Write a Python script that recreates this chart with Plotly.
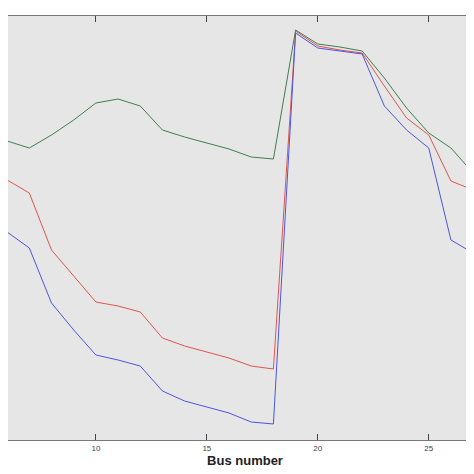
import plotly.graph_objects as go

bus = list(range(6, 28))
# values (arbitrary units, no y labels shown)
green = [133, 140, 127, 112, 95, 91, 98, 122, 129, 135, 141, 149, 151, 22, 36, 39, 43, 70, 100, 125, 140, 165]
red = [172, 185, 242, 268, 294, 298, 304, 330, 338, 344, 350, 358, 361, 23, 38, 42, 45, 78, 110, 127, 173, 182]
blue = [224, 240, 295, 322, 347, 352, 358, 383, 393, 399, 405, 414, 416, 25, 40, 43, 46, 98, 122, 140, 232, 245]

fig = go.Figure()
for vals, col in [(green, "#3f7f4f"), (red, "#e0554f"), (blue, "#4d55e0")]:
    fig.add_trace(go.Scatter(x=bus, y=[432 - v for v in vals], mode="lines",
                             line=dict(color=col, width=1), showlegend=False))

fig.update_layout(
    width=474, height=474, margin=dict(l=0, r=0, t=8, b=42, pad=0),
    paper_bgcolor="white", plot_bgcolor="#e6e6e6",
    xaxis=dict(range=[6.04, 27.4], tickvals=[10, 15, 20, 25], ticks="inside", ticklen=6,
               showgrid=False, zeroline=False, showline=True, linecolor="#777", automargin=False,
               tickfont=dict(size=8, color="#444", family="Arial"),
               title=dict(text="<b>Bus number</b>", font=dict(size=13, color="#222", family="Arial"), standoff=4),
               mirror="ticks"),
    yaxis=dict(range=[0, 424], showticklabels=False, showgrid=False, zeroline=False, ticks="",
               automargin=False),
)
fig.write_html("out.html")
